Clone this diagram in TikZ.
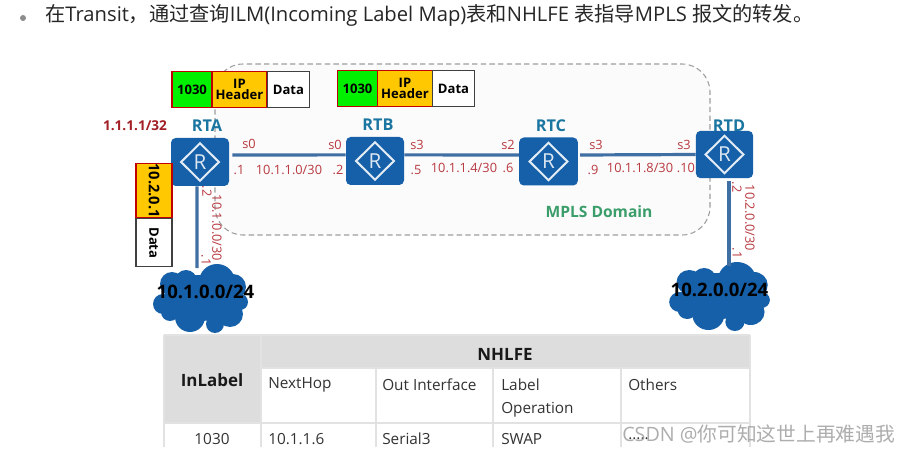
\documentclass[tikz,border=0pt]{standalone}
\usepackage{fontspec}
\setmainfont{Open Sans}
\newfontfamily\cjk{Noto Sans CJK SC}
\newcommand{\fsz}[1]{\fontsize{#1}{#1}\selectfont}
\definecolor{rblue}{HTML}{1560A8}
\definecolor{linkblue}{HTML}{3F6FA3}
\definecolor{labred}{HTML}{B8383F}
\definecolor{darkred}{HTML}{A31F26}
\definecolor{rtext}{HTML}{1A75A0}
\definecolor{mgreen}{HTML}{3A9D6A}
\definecolor{pgreen}{HTML}{00F000}
\definecolor{pyellow}{HTML}{FFC800}
\definecolor{pred}{HTML}{C00000}
\definecolor{hdr}{HTML}{DDDDDD}
\definecolor{grid}{HTML}{E2E2E2}
\tikzset{
  routerbox/.style={rectangle,fill=rblue,draw=none,rounded corners=3.5pt,inner sep=0pt,minimum height=#1},
  lab/.style={text=labred,inner sep=0pt,font=\fsz{9.6}},
  rname/.style={text=rtext,inner sep=0pt,font=\fsz{12.2}\bfseries},
  link/.style={draw=linkblue,line width=2.4pt},
  cellred/.style={rectangle,draw=pred,line width=.9pt,inner sep=0pt,text=black,align=center},
  cellgray/.style={rectangle,draw=black!75,line width=.9pt,fill=white,inner sep=0pt,text=black,align=center},
  pkt/.style={font=\fsz{9.8}\bfseries},
  cloudlabel/.style={inner sep=0pt,text=black,font=\fsz{13.9}\bfseries},
  tcell/.style={anchor=west,inner sep=0pt,text=black!80,font=\fsz{11.5}},
  thead/.style={inner sep=0pt,text=black!90,font=\fsz{12.7}\bfseries},
}
\newcommand{\routermark}[1]{%
  \draw[white!88!rblue,line width=1.5pt,line join=miter]
    ([yshift=-14pt]#1.center) -- ([xshift=14.2pt]#1.center) -- ([yshift=14pt]#1.center) -- ([xshift=-14.2pt]#1.center) -- cycle;
  \node[inner sep=0pt,text=white!85!rblue,font=\fsz{15.5}] (#1r) at (#1.center) {R};}
\newcommand{\cloudblob}[3]{% center x, y, scale x
  \begin{scope}[shift={(#1,#2)},xscale=#3]
  \fill[rblue] (0,2) ellipse [x radius=36,y radius=23];
  \foreach \a/\b/\r in {-28/-12/12,-14/-15/11,17/-14/18,33/-9/13,40/6/8,30/18/13,15/28/9,-10/21/15,-37/8/10,-30/16/9}{
    \fill[rblue] (\a,\b) circle [radius=\r];}
  \end{scope}}
\begin{document}
\begin{tikzpicture}[x=.75pt,y=-.75pt]
\useasboundingbox (0,0) rectangle (908,453);
\fill[white] (0,0) rectangle (908,453);

% heading
\fill[black!45] (23,18) circle [radius=3];
\node[anchor=west,inner sep=0pt,text=black!85,font=\fsz{15.15}] (title) at (45,15)
  {{\cjk 在}Transit{\cjk ，通过查询}ILM(Incoming Label Map){\cjk 表和}NHLFE {\cjk 表指导}MPLS {\cjk 报文的转发。}};

% MPLS domain
\draw[draw=black!38,fill=black!1.5,dashed,line width=.8pt,dash pattern=on 4pt off 2.5pt,rounded corners=21pt]
  (215,64) rectangle (710,235);
\node[inner sep=0pt,text=mgreen,font=\fsz{11.7}\bfseries] (mpls) at (599,212) {MPLS Domain};

% routers
\node[rname] (rtan) at (207,126) {RTA};
\node[rname] (rtbn) at (378,125) {RTB};
\node[rname] (rtcn) at (551,126) {RTC};
\node[rname] (rtdn) at (729,126) {RTD};
\node[routerbox=36pt,minimum width=43.5pt] (rta) at (200,162) {};
\node[routerbox=36pt,minimum width=43.5pt] (rtb) at (375,161) {};
\node[routerbox=36pt,minimum width=44pt] (rtc) at (548.5,161.5) {};
\node[routerbox=35.5pt,minimum width=42.8pt] (rtd) at (724.5,154.5) {};
\routermark{rta}\routermark{rtb}\routermark{rtc}\routermark{rtd}

% clouds
\cloudblob{200}{296}{1}
\cloudblob{719}{294}{1.06}
\coordinate (cl1) at (197,268);
\coordinate (cl2) at (729,266);
\node[cloudlabel] (c1t) at (205.5,292) {10.1.0.0/24};
\node[cloudlabel] (c2t) at (719.5,290) {10.2.0.0/24};

% links
\draw[link] ([shift={(3,-7)}]rta.east) -- ([yshift=4.6pt]rtb.west);
\draw[link] ([yshift=4.6pt]rtb.east) -- ([yshift=4.9pt]rtc.west);
\draw[link] ([shift={(2,-6.5)}]rtc.east) -- ([yshift=0pt]rtd.west);
\draw[link] ([xshift=-2.2pt]rta.south) -- (cl1);
\draw[link] ([shift={(4.5,3)}]rtd.south) -- (cl2);

% packets
\node[cellred,fill=pgreen,minimum width=30pt,minimum height=27.5pt,pkt] (p1a) at (192,89.5) {1030};
\node[cellred,fill=pyellow,minimum width=41pt,minimum height=27.5pt,pkt] (p1b) at (239.5,89.5) {IP\\[-1pt]Header};
\node[cellgray,minimum width=32pt,minimum height=27.5pt,pkt] (p1c) at (288.5,89.5) {Data};
\node[cellred,fill=pgreen,minimum width=30pt,minimum height=27.5pt,pkt] (p2a) at (357.5,88.5) {1030};
\node[cellred,fill=pyellow,minimum width=41pt,minimum height=27.5pt,pkt] (p2b) at (405,88.5) {IP\\[-1pt]Header};
\node[cellgray,minimum width=32pt,minimum height=27.5pt,pkt] (p2c) at (453.5,88.5) {Data};
\node[cellred,fill=pyellow,minimum width=27pt,minimum height=41pt] (p3a) at (154,190.5) {};
\node[cellgray,minimum width=27pt,minimum height=36.5pt] (p3b) at (154,242.5) {};
\node[rotate=-90,inner sep=0pt,font=\fsz{11}\bfseries] (p3at) at (154,190.5) {10.2.0.1};
\node[rotate=-90,inner sep=0pt,pkt] (p3bt) at (154,243) {Data};

% labels
\node[inner sep=0pt,text=darkred,font=\fsz{10.2}\bfseries] (lo) at (135,126) {1.1.1.1/32};
\node[lab] (a1) at (249,144) {s0};
\node[lab] (a2) at (335,145) {s0};
\node[lab] (a3) at (239,170) {.1};
\node[lab] (a4) at (289,170) {10.1.1.0/30};
\node[lab] (a5) at (338,170) {.2};
\node[lab] (b1) at (417,145) {s3};
\node[lab] (b2) at (508,145) {s2};
\node[lab] (b3) at (416,170) {.5};
\node[lab] (b4) at (464,168) {10.1.1.4/30};
\node[lab] (b5) at (508,168) {.6};
\node[lab] (c1) at (596,145) {s3};
\node[lab] (c2) at (684,145) {s3};
\node[lab] (c3) at (593,170) {.9};
\node[lab] (c4) at (640,168) {10.1.1.8/30};
\node[lab] (c5) at (686,168) {.10};
\node[lab,rotate=-90] (d1) at (207,191) {.2};
\node[lab,rotate=-90] (d2) at (217,228) {10.1.0.0/30};
\node[lab,rotate=-90] (d3) at (206,260) {.1};
\node[lab,rotate=-90] (e1) at (737,187) {.2};
\node[lab,rotate=-90] (e2) at (750,218) {10.2.0.0/30};
\node[lab,rotate=-90] (e3) at (737,253) {.1};

% table
\fill[hdr] (164,335) rectangle (750,368);
\fill[hdr] (164,335) rectangle (261,423);
\draw[grid,line width=.9pt] (164,335) -- (750,335)
  (261,368) -- (750,368) (164,423) -- (750,423)
  (164,335) -- (164,447) (261,335) -- (261,447) (376,368) -- (376,447)
  (493,368) -- (493,447) (621,368) -- (621,447) (750,335) -- (750,447);
\node[thead] (t1) at (212,380) {InLabel};
\node[thead] (t2) at (505,354) {NHLFE};
\node[tcell] (t3) at (268,385) {NextHop};
\node[tcell] (t4) at (382,385) {Out Interface};
\node[tcell] (t5) at (501,385) {Label};
\node[tcell] (t6) at (501,410) {Operation};
\node[tcell] (t7) at (628,385) {Others};
\node[tcell,anchor=center] (t8) at (212,439) {1030};
\node[tcell] (t9) at (268,439) {10.1.1.6};
\node[tcell] (t10) at (382,439) {Serial3};
\node[tcell] (t11) at (501,439) {SWAP};
\node[tcell] (t12) at (628,439) {.....};

% watermark
\node[anchor=west,inner sep=0pt,text=black!40,opacity=.8,font=\fsz{14.8}] (wm) at (622,434) {CSDN @{\cjk 你可知这世上再难遇我}};
\end{tikzpicture}
\end{document}
